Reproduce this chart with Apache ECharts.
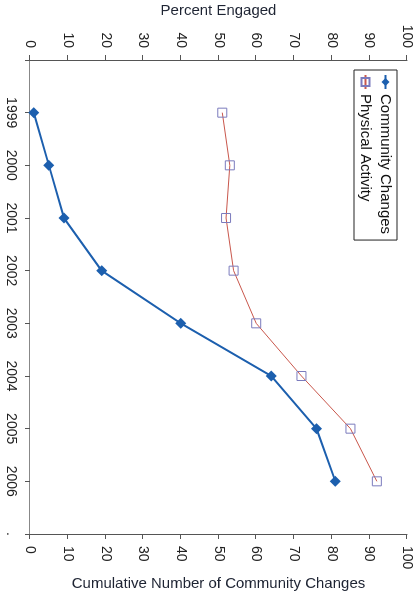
<!DOCTYPE html>
<html>
<head>
<meta charset="utf-8">
<script src="https://cdn.jsdelivr.net/npm/echarts@6/dist/echarts.min.js"></script>
<style>
  html, body { margin: 0; padding: 0; background: #fff; overflow: hidden; }
  /* the chart is drawn landscape and turned a quarter clockwise */
  #chart {
    position: absolute; left: 0; top: 0;
    width: 595px; height: 415px;
    transform-origin: 0 0;
    transform: translate(415px, 0) rotate(90deg);
  }
</style>
</head>
<body>
<div id="chart"></div>
<script>
const YEARS = ["", "1999", "2000", "2001", "2002", "2003", "2004", "2005", "2006", "."];
const COMMUNITY_CHANGES = [null, 1, 5, 9, 19, 40, 64, 76, 81, null];
const PHYSICAL_ACTIVITY = [null, 51, 53, 52, 54, 60, 72, 85, 92, null];
const VALUE_TICKS = { min: 0, max: 100, interval: 10 };

const FONT = "'Liberation Sans', Arial, sans-serif";

function valueAxis(name, position) {
  return {
    type: "value",
    position: position,
    min: VALUE_TICKS.min,
    max: VALUE_TICKS.max,
    interval: VALUE_TICKS.interval,
    name: name,
    nameLocation: "middle",
    nameRotate: 90,
    nameGap: 42,
    nameMoveOverlap: false,
    nameTextStyle: { fontFamily: FONT, fontSize: 15, color: "#1e2433" },
    axisLine: { show: true, lineStyle: { color: "#555", width: 1 } },
    axisTick: { show: true, length: 5, lineStyle: { color: "#555" } },
    axisLabel: { margin: 12, fontFamily: FONT, fontSize: 14, color: "#222" },
    splitLine: { show: false },
  };
}

function renderChart() {
  const chart = echarts.init(document.getElementById("chart"));

  const option = {
    animation: false,
    backgroundColor: "#fff",
    grid: { left: 60, right: 61, top: 8, bottom: 30, outerBoundsMode: "none", containLabel: false },
    legend: {
      orient: "vertical",
      left: 70,
      top: 18,
      padding: [4, 6, 4, 4],
      itemGap: 5,
      itemWidth: 14,
      itemHeight: 10,
      borderColor: "#222",
      borderWidth: 1,
      backgroundColor: "#fff",
      textStyle: { fontFamily: FONT, fontSize: 15, color: "#111" },
    },
    xAxis: {
      type: "category",
      data: YEARS,
      boundaryGap: false,
      axisLine: { lineStyle: { color: "#888", width: 1 } },
      axisTick: { show: true, length: 5, alignWithLabel: true, lineStyle: { color: "#555" } },
      axisLabel: { margin: 12, fontFamily: FONT, fontSize: 14, color: "#222", interval: 0 },
      splitLine: { show: false },
    },
    yAxis: [
      valueAxis("Percent Engaged", "left"),
      valueAxis("Cumulative Number of Community Changes", "right"),
    ],
    series: [
      {
        name: "Community Changes",
        type: "line",
        yAxisIndex: 1,
        data: COMMUNITY_CHANGES,
        symbol: "diamond",
        symbolSize: 11,
        lineStyle: { color: "#1c5fae", width: 2 },
        itemStyle: { color: "#1c5fae" },
      },
      {
        name: "Physical Activity",
        type: "line",
        yAxisIndex: 0,
        data: PHYSICAL_ACTIVITY,
        symbol: "rect",
        symbolSize: 9,
        lineStyle: { color: "#c9574c", width: 1 },
        itemStyle: { color: "rgba(255,255,255,0)", borderColor: "#7b7bbd", borderWidth: 1 },
      },
    ],
  };

  chart.setOption(option);
}

document.addEventListener("DOMContentLoaded", function () {
  renderChart();
});
</script>
</body>
</html>
